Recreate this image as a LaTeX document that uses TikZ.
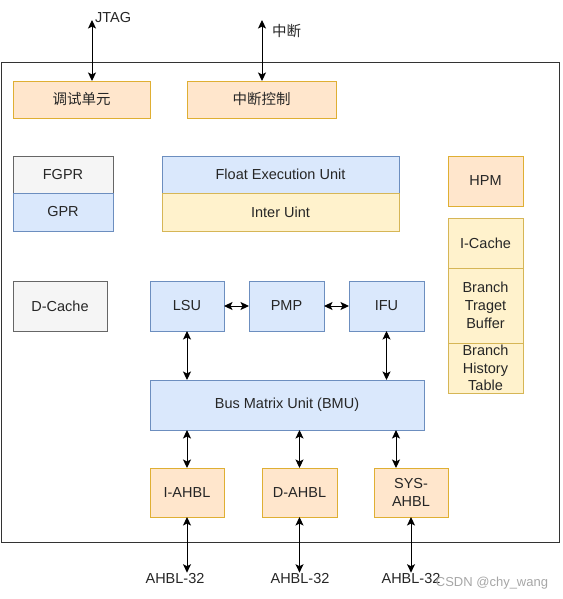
\documentclass[tikz,border=0pt]{standalone}
\usepackage{fontspec}
\setmainfont{Liberation Sans}
\newfontfamily\cjk{Noto Sans CJK SC}
\usetikzlibrary{positioning,arrows.meta}
\definecolor{bluefill}{HTML}{DAE8FC}
\definecolor{blueline}{HTML}{6C8EBF}
\definecolor{orangefill}{HTML}{FFE6CC}
\definecolor{orangeline}{HTML}{D79B00}
\definecolor{yellowfill}{HTML}{FFF2CC}
\definecolor{yellowline}{HTML}{D6B656}
\definecolor{greyfill}{HTML}{F5F5F5}
\definecolor{greyline}{HTML}{666666}
\tikzset{
    unit-box/.style = {draw, thick, rectangle, inner sep=0pt, outer sep=0pt, align=center, text=black!85, font=\fontsize{14.5}{18}\selectfont},
    blue-box/.style = {unit-box, draw=blueline, fill=bluefill},
    orange-box/.style = {unit-box, draw=orangeline!80, fill=orangefill},
    yellow-box/.style = {unit-box, draw=yellowline, fill=yellowfill},
    grey-box/.style = {unit-box, draw=greyline, fill=greyfill},
    pin-text/.style = {inner sep=1pt, text=black!85, font=\fontsize{14.5}{18}\selectfont},
    bus/.style = {{Stealth[length=8.5pt,width=8pt,inset=2pt]}-{Stealth[length=8.5pt,width=8pt,inset=2pt]}, line width=1pt},
}

\begin{document}
\begin{tikzpicture}[x=1pt, y=-1pt]
\useasboundingbox (0,0) rectangle (562,599);
\draw[line width=0.9pt, black!80] (1,62) rectangle (559,542);
% debug and interrupt
\node[orange-box, minimum width=137pt, minimum height=37pt] (debug) at (81.5,99.5) {\cjk 调试单元};
\node[orange-box, minimum width=149pt, minimum height=37pt] (intc) at (261.5,99.5) {\cjk 中断控制};
\coordinate (jtag-pin) at (92,20);
\coordinate (int-pin) at (262,20);
\node[pin-text, anchor=west] (jtag) at (94,18) {JTAG};
\node[pin-text, anchor=west] (int) at (271,31) {\cjk 中断};
\draw[bus] (jtag-pin) -- (jtag-pin |- debug.north);
\draw[bus] (int-pin) -- (int-pin |- intc.north);
% register files and execution units
\node[grey-box, minimum width=100pt, minimum height=37pt] (fgpr) at (63,174.5) {FGPR};
\node[blue-box, minimum width=100pt, minimum height=38pt, below=0pt of fgpr] (gpr) {GPR};
\node[blue-box, minimum width=237pt, minimum height=37pt] (feu) at (280.5,174.5) {Float Execution Unit};
\node[yellow-box, minimum width=237pt, minimum height=38pt, below=0pt of feu] (iu) {Inter Uint};
% fetch side
\node[orange-box, minimum width=75pt, minimum height=50pt] (hpm) at (485.5,181) {HPM};
\node[yellow-box, minimum width=75pt, minimum height=50pt] (icache) at (485.5,243) {I-Cache};
\node[yellow-box, minimum width=75pt, minimum height=75pt, below=0pt of icache] (btb) {Branch\\Traget\\Buffer};
\node[yellow-box, minimum width=75pt, minimum height=50pt, below=0pt of btb, font=\fontsize{14.5}{17.5}\selectfont] (bht) {Branch\\History\\Table};
% load/store and fetch units
\node[grey-box, minimum width=94pt, minimum height=50pt] (dcache) at (60,306) {D-Cache};
\node[blue-box, minimum width=74pt, minimum height=50pt] (lsu) at (187,306) {LSU};
\node[blue-box, minimum width=75pt, minimum height=50pt] (pmp) at (286.5,306) {PMP};
\node[blue-box, minimum width=75pt, minimum height=50pt] (ifu) at (386.5,306) {IFU};
\node[blue-box, minimum width=274pt, minimum height=50pt] (bmu) at (287,405) {Bus Matrix Unit (BMU)};
\draw[bus] (lsu) -- (pmp);
\draw[bus] (pmp) -- (ifu);
\draw[bus] (lsu.south) -- (lsu.south |- bmu.north);
\draw[bus] (ifu.south) -- (ifu.south |- bmu.north);
% bus interfaces
\node[orange-box, minimum width=74pt, minimum height=49pt] (iahbl) at (187,492.5) {I-AHBL};
\node[orange-box, minimum width=75pt, minimum height=49pt] (dahbl) at (299.5,492.5) {D-AHBL};
\node[orange-box, minimum width=74pt, minimum height=49pt] (sahbl) at (411,492.5) {SYS-\\AHBL};
\draw[bus] (iahbl.north) -- (iahbl.north |- bmu.south);
\draw[bus] (dahbl.north) -- (dahbl.north |- bmu.south);
\draw[bus] ([xshift=-15pt]sahbl.north) -- ([xshift=-15pt]sahbl.north |- bmu.south);
\node[pin-text] (iout) at (175,579) {AHBL-32};
\node[pin-text] (dout) at (300,579) {AHBL-32};
\node[pin-text] (sout) at (411,579) {AHBL-32};
\draw[bus] (iahbl.south) -- (iahbl.south |- iout.north);
\draw[bus] (dahbl.south) -- (dahbl.south |- dout.north);
\draw[bus] (sahbl.south) -- (sahbl.south |- sout.north);
\node[inner sep=0pt, text=black!35, font=\fontsize{13}{15}\selectfont] (mark) at (492,583) {CSDN @chy\_wang};
\end{tikzpicture}
\end{document}
